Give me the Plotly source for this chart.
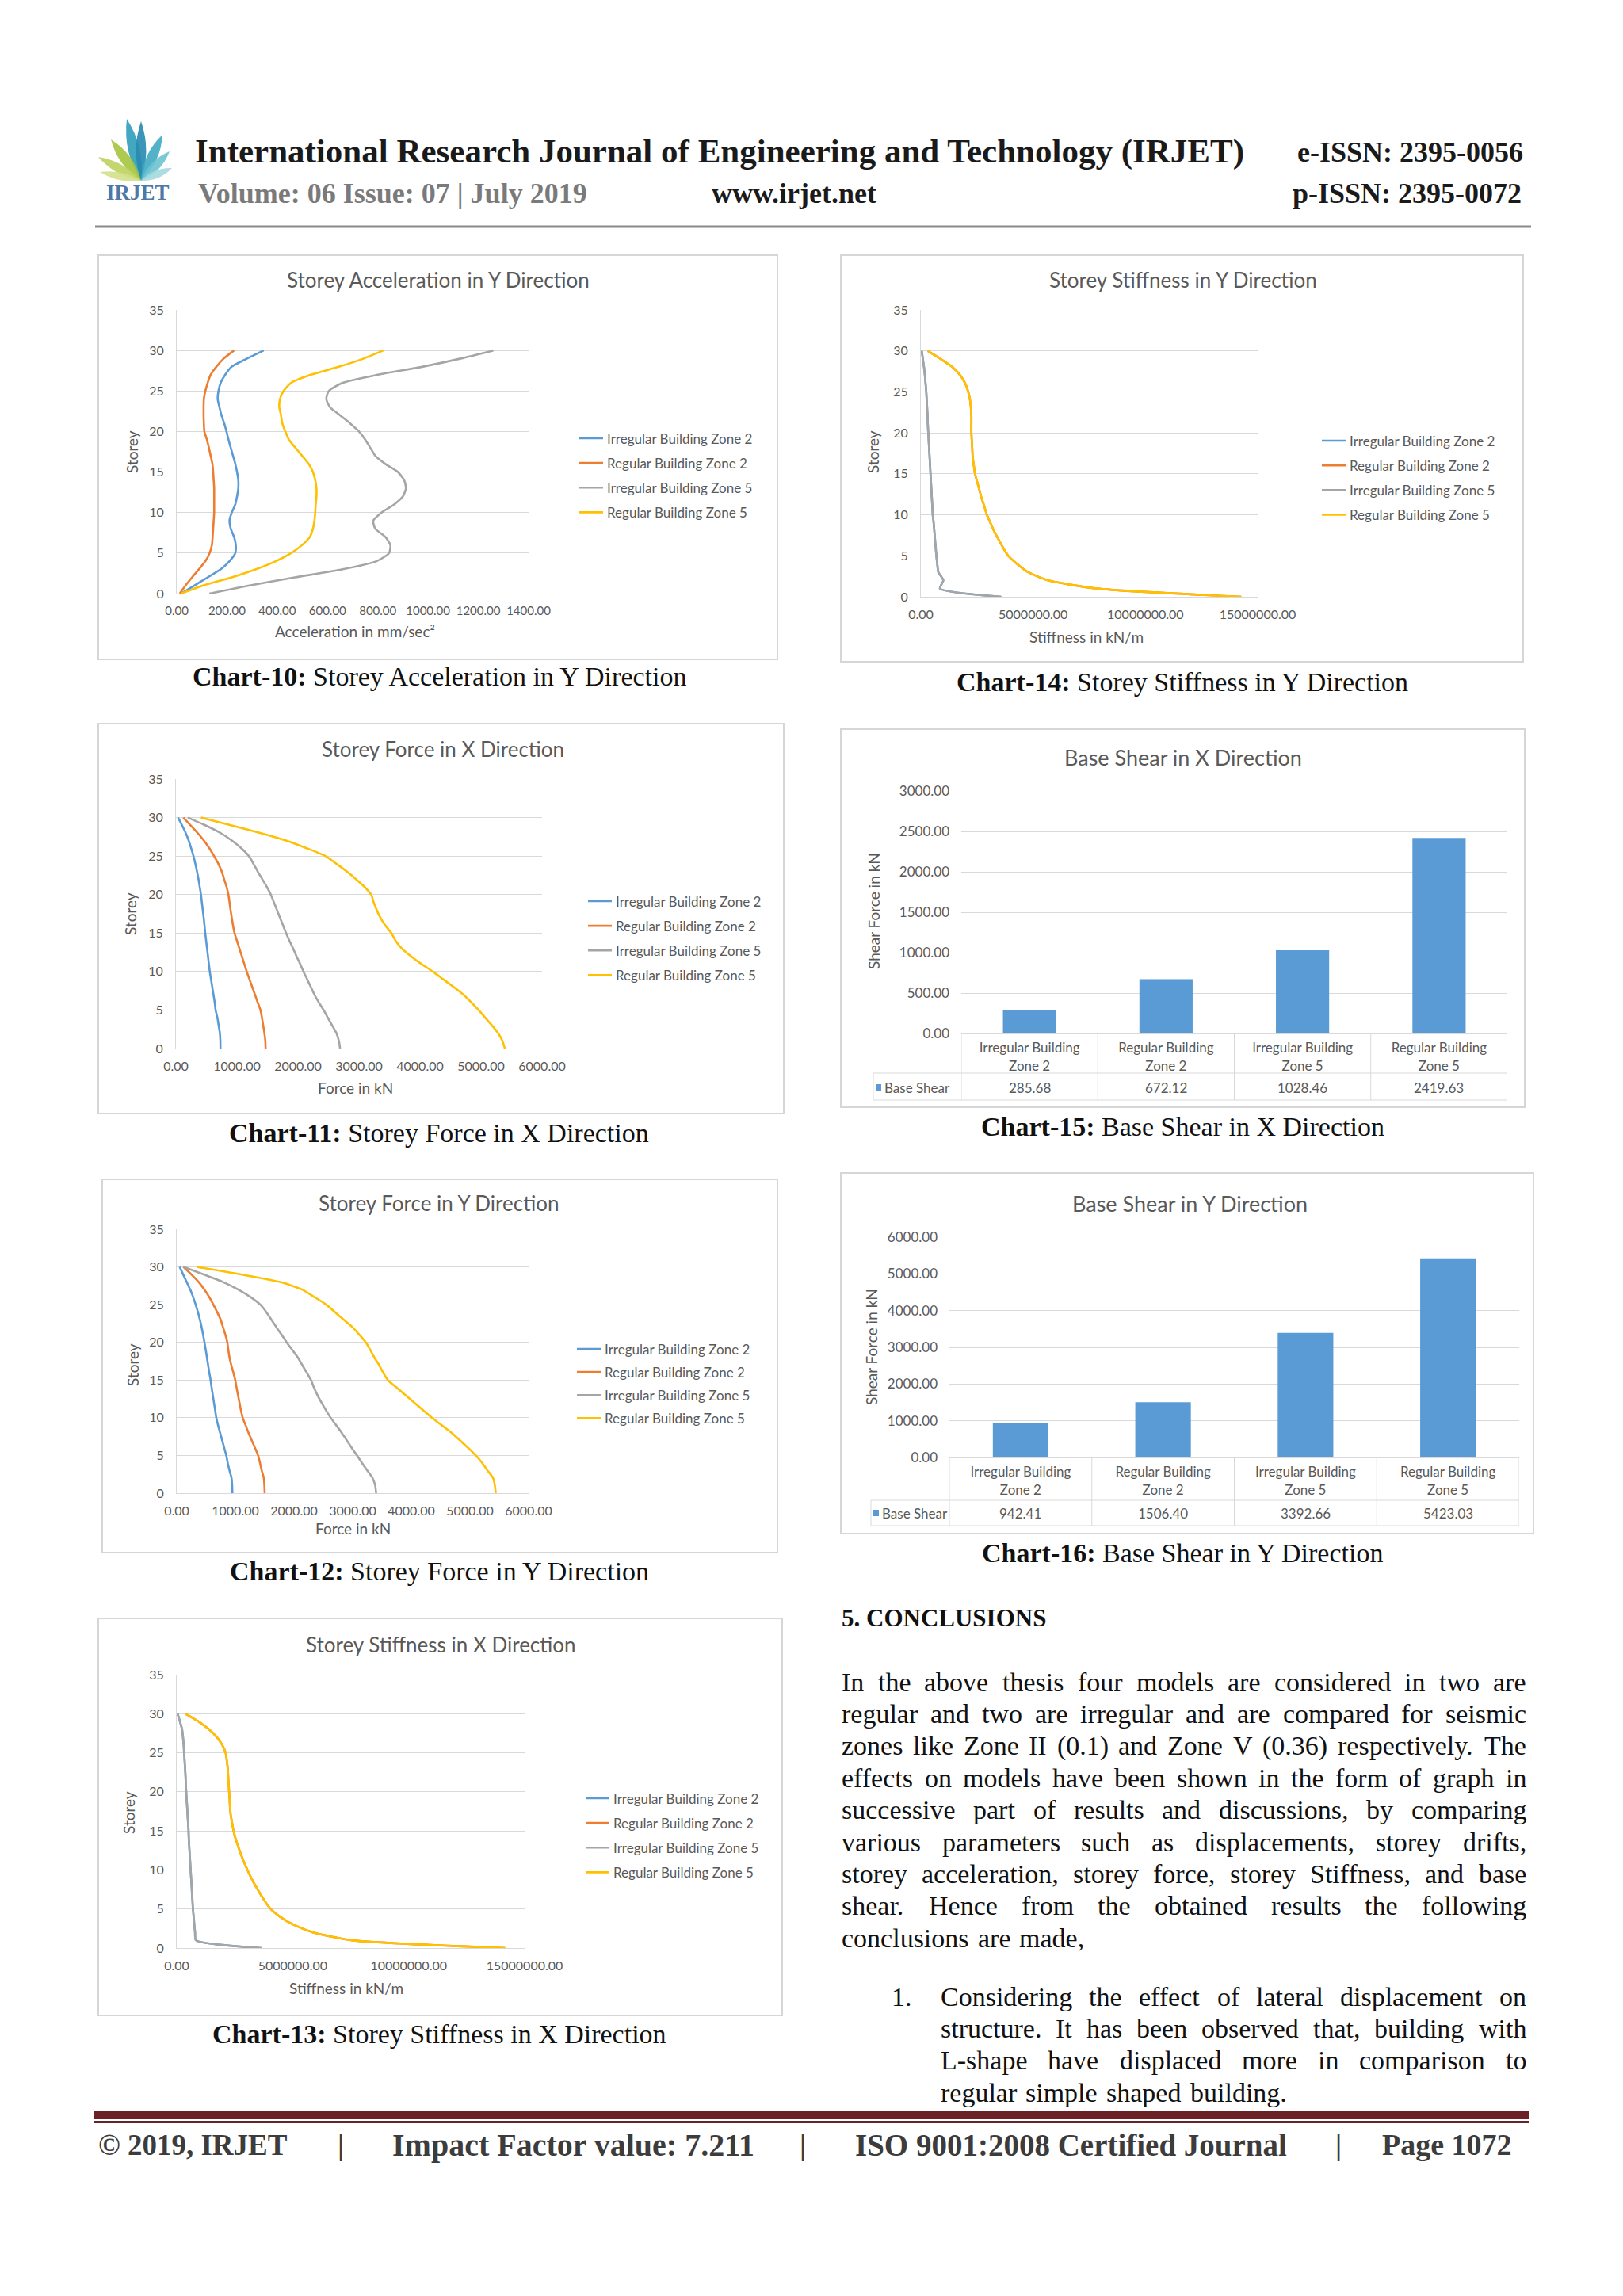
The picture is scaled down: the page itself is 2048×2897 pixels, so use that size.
import plotly.graph_objects as go

W, H = 2048, 2897
OFF = 8                      # default body margin of the page
FW, FH = W - 2 * OFF, H - 2 * OFF - 1


def px(x):
    return (x - OFF) / FW


def py(y):
    return 1 - (y - OFF) / FH


# ---------------- data ----------------
storeys = list(range(0, 31))

series_names = ["Irregular Building Zone 2", "Regular Building Zone 2",
                "Irregular Building Zone 5", "Regular Building Zone 5"]
series_colors = ["#5B9BD5", "#ED7D31", "#A5A5A5", "#FFC000"]

# Chart-10 storey acceleration in Y (mm/sec^2), storey 0..30
acc_y_irr_z2 = [17, 70, 123, 175, 210, 233, 235, 228, 215, 210, 219, 233, 240, 245, 245, 240,
                233, 224, 215, 206, 198, 189, 178, 170, 163, 166, 175, 193, 219, 280, 346]
acc_y_reg_z2 = [12, 35, 61, 88, 114, 131, 140, 143, 145, 147, 149, 149, 149, 149, 147, 145,
                142, 135, 128, 120, 110, 108, 107, 107, 108, 114, 123, 135, 158, 187, 228]
acc_y_irr_z5 = [130, 290, 470, 660, 795, 845, 850, 830, 790, 782, 815, 865, 900, 912, 905, 880,
                830, 790, 770, 750, 725, 690, 650, 610, 595, 605, 660, 800, 980, 1130, 1260]
acc_y_reg_z5 = [17, 105, 219, 315, 394, 455, 499, 530, 542, 548, 551, 553, 556, 556, 551, 542,
                525, 499, 472, 446, 432, 420, 415, 408, 411, 425, 455, 534, 647, 744, 822]

# Chart-11 storey force in X (kN)
force_x_irr_z2 = [730, 728, 720, 700, 680, 650, 635, 615, 595, 575, 555, 540, 525, 510, 495, 480,
                  468, 455, 440, 425, 410, 390, 370, 345, 318, 287, 250, 210, 160, 100, 36]
force_x_reg_z2 = [1470, 1465, 1450, 1430, 1410, 1385, 1340, 1295, 1250, 1205, 1160, 1120, 1080, 1040, 1000, 960,
                  935, 915, 895, 878, 860, 830, 790, 750, 695, 625, 550, 460, 355, 240, 120]
force_x_irr_z5 = [2690, 2670, 2630, 2560, 2490, 2420, 2340, 2270, 2210, 2150, 2090, 2035, 1975, 1920, 1860, 1805,
                  1755, 1705, 1655, 1605, 1555, 1490, 1415, 1340, 1270, 1195, 1075, 920, 730, 480, 195]
force_x_reg_z5 = [5390, 5350, 5280, 5180, 5070, 4960, 4840, 4710, 4550, 4380, 4210, 4020, 3850, 3700, 3600, 3530,
                  3430, 3350, 3290, 3240, 3200, 3090, 2950, 2800, 2630, 2450, 2150, 1810, 1380, 900, 410]

# Chart-12 storey force in Y (kN)
force_y_irr_z2 = [950, 945, 935, 900, 870, 845, 810, 775, 740, 705, 675, 655, 635, 615, 595, 578,
                  555, 535, 515, 495, 473, 450, 425, 395, 362, 323, 280, 230, 170, 110, 50]
force_y_reg_z2 = [1500, 1495, 1485, 1450, 1420, 1388, 1335, 1280, 1225, 1175, 1125, 1095, 1070, 1045, 1020, 998,
                  965, 930, 900, 880, 863, 830, 790, 750, 690, 625, 555, 470, 375, 250, 113]
force_y_irr_z5 = [3400, 3385, 3340, 3250, 3160, 3075, 2985, 2900, 2815, 2720, 2625, 2545, 2470, 2400, 2340, 2290,
                  2215, 2140, 2065, 1970, 1875, 1790, 1700, 1615, 1530, 1425, 1260, 1050, 790, 460, 115]
force_y_reg_z5 = [5440, 5425, 5395, 5300, 5210, 5100, 4970, 4830, 4690, 4520, 4350, 4200, 4050, 3900, 3750, 3600,
                  3520, 3450, 3370, 3300, 3225, 3115, 3000, 2850, 2700, 2550, 2350, 2140, 1765, 1100, 340]

# Chart-13 storey stiffness in X (kN/m); zone 2 and zone 5 curves coincide
stiff_x_irr = [3650000, 830000, 790000, 760000, 730000, 700000, 680000, 660000, 640000, 620000, 600000,
               580000, 560000, 540000, 520000, 510000, 490000, 470000, 450000, 430000, 410000,
               390000, 380000, 360000, 340000, 320000, 300000, 270000, 230000, 140000, 40000]
stiff_x_reg = [14160000, 7570000, 5880000, 5030000, 4460000, 4050000, 3800000, 3590000, 3390000, 3210000, 3050000,
               2900000, 2770000, 2650000, 2540000, 2450000, 2390000, 2330000, 2300000, 2280000, 2260000,
               2240000, 2220000, 2200000, 2160000, 2110000, 1960000, 1730000, 1390000, 940000, 380000]

# Chart-14 storey stiffness in Y (kN/m)
stiff_y_irr = [3580000, 850000, 1000000, 780000, 730000, 690000, 660000, 630000, 600000, 570000, 530000,
               510000, 490000, 470000, 450000, 430000, 410000, 390000, 370000, 350000, 330000,
               310000, 300000, 280000, 260000, 240000, 210000, 180000, 140000, 90000, 40000]
stiff_y_reg = [14270000, 7850000, 5670000, 4780000, 4290000, 3890000, 3660000, 3460000, 3260000, 3100000, 2940000,
               2830000, 2710000, 2610000, 2510000, 2410000, 2360000, 2310000, 2290000, 2270000, 2250000,
               2250000, 2250000, 2230000, 2190000, 2110000, 1980000, 1760000, 1420000, 890000, 300000]

# Chart-15 / 16 base shear (kN)
bar_categories = ["Irregular Building<br>Zone 2", "Regular Building<br>Zone 2",
                  "Irregular Building<br>Zone 5", "Regular Building<br>Zone 5"]
base_shear_x = [285.68, 672.12, 1028.46, 2419.63]
base_shear_y = [942.41, 1506.40, 3392.66, 5423.03]

paragraph_lines = [
    "In the above thesis four models are considered in two are",
    "regular and two are irregular and are compared for seismic",
    "zones like Zone II (0.1) and Zone V (0.36) respectively. The",
    "effects on models have been shown in the form of graph in",
    "successive part of results and discussions, by comparing",
    "various parameters such as displacements, storey drifts,",
    "storey acceleration, storey force, storey Stiffness, and base",
    "shear. Hence from the obtained results the following",
    "conclusions are made,",
]
item_lines = [
    "Considering the effect of lateral displacement on",
    "structure. It has been observed that, building with",
    "L-shape have displaced more in comparison to",
    "regular simple shaped building.",
]

# ---------------- styling ----------------
GRID = "#d9d9d9"
TXT = "#595959"
CF = "Lato, 'Open Sans', sans-serif"
SERIF = "'Liberation Serif', 'Times New Roman', serif"

fig = go.Figure()
annotations = []
shapes = []
layout = {}


def ann(text, x, y, size, color="#111", family=SERIF, xanchor="center", yanchor="middle", angle=0):
    annotations.append(dict(text=text, x=px(x), y=py(y), xref="paper", yref="paper",
                            xanchor=xanchor, yanchor=yanchor, showarrow=False, textangle=angle,
                            font=dict(size=size, color=color, family=family), borderpad=0, borderwidth=0))


def box(x0, y0, x1, y1):
    shapes.append(dict(type="rect", xref="paper", yref="paper", x0=px(x0), x1=px(x1),
                       y0=py(y1), y1=py(y0), line=dict(color="#d6d6d6", width=2), layer="below"))


def axkeys(i):
    return ("xaxis" if i == 1 else f"xaxis{i}", "yaxis" if i == 1 else f"yaxis{i}",
            "x" if i == 1 else f"x{i}", "y" if i == 1 else f"y{i}")


line_charts = [
    dict(i=1, title="Storey Acceleration in Y Direction", xtitle="Acceleration in mm/sec²",
         data=[acc_y_irr_z2, acc_y_reg_z2, acc_y_irr_z5, acc_y_reg_z5], xmax=1400, dtick=200, xfs=15,
         box=(124, 322, 981, 832), plot=(223, 391, 667, 749), tpos=(553, 353), xtpos=(448, 797),
         ytpos=(167, 570), leg=(734, 600), gap=6),
    dict(i=2, title="Storey Force in X Direction", xtitle="Force in kN",
         data=[force_x_irr_z2, force_x_reg_z2, force_x_irr_z5, force_x_reg_z5], xmax=6000, dtick=1000, xfs=16,
         box=(124, 913, 989, 1405), plot=(222, 983, 684, 1323), tpos=(559, 945), xtpos=(448, 1372),
         ytpos=(164, 1153), leg=(745, 1184), gap=6),
    dict(i=3, title="Storey Force in Y Direction", xtitle="Force in kN",
         data=[force_y_irr_z2, force_y_reg_z2, force_y_irr_z5, force_y_reg_z5], xmax=6000, dtick=1000, xfs=16,
         box=(129, 1488, 981, 1959), plot=(223, 1551, 667, 1884), tpos=(553, 1518), xtpos=(445, 1928),
         ytpos=(167, 1722), leg=(731, 1746), gap=4),
    dict(i=4, title="Storey Stiffness in X Direction", xtitle="Stiffness in kN/m",
         data=[stiff_x_irr, stiff_x_reg, stiff_x_irr, stiff_x_reg], xmax=15000000, dtick=5000000, xfs=16,
         box=(124, 2042, 987, 2543), plot=(223, 2113, 662, 2458), tpos=(556, 2075), xtpos=(437, 2508),
         ytpos=(162, 2287), leg=(742, 2316), gap=6),
    dict(i=5, title="Storey Stiffness in Y Direction", xtitle="Stiffness in kN/m",
         data=[stiff_y_irr, stiff_y_reg, stiff_y_irr, stiff_y_reg], xmax=15000000, dtick=5000000, xfs=16,
         box=(1061, 322, 1922, 835), plot=(1162, 391, 1587, 753), tpos=(1493, 353), xtpos=(1371, 803),
         ytpos=(1102, 570), leg=(1671, 603), gap=6),
]

for c in line_charts:
    i = c["i"]
    xk, yk, xr, yr = axkeys(i)
    legkey = "legend" if i == 1 else f"legend{i}"
    for k in range(4):
        fig.add_trace(go.Scatter(
            x=c["data"][k], y=storeys, mode="lines", name=series_names[k],
            line=dict(color=series_colors[k], width=2.6, shape="spline", smoothing=0.6),
            xaxis=xr, yaxis=yr, legend=legkey, legendgroup=f"g{i}_{k}", hoverinfo="skip"))
    x0, y0, x1, y1 = c["plot"]
    layout[xk] = dict(domain=[px(x0), px(x1)], range=[0, c["xmax"]], anchor=yr, tick0=0,
                      dtick=c["dtick"], tickformat=".2f", showgrid=False, zeroline=False,
                      showline=True, linecolor=GRID, linewidth=1, ticks="", ticklabelstandoff=8,
                      tickangle=0, automargin=False,
                      tickfont=dict(size=c["xfs"], color=TXT, family=CF), fixedrange=True)
    layout[yk] = dict(domain=[py(y1), py(y0)], range=[0, 35], anchor=xr, tick0=0, dtick=5,
                      showgrid=True, gridcolor=GRID, gridwidth=1, zeroline=False,
                      showline=True, linecolor=GRID, linewidth=1, ticks="", ticklabelstandoff=12,
                      automargin=False,
                      tickfont=dict(size=16, color=TXT, family=CF), fixedrange=True)
    lx, ly = c["leg"]
    layout[legkey] = dict(x=px(lx - 8), y=py(ly), xanchor="left", yanchor="middle",
                          bgcolor="rgba(0,0,0,0)", font=dict(size=17, color=TXT, family=CF),
                          tracegroupgap=c["gap"], traceorder="grouped", itemwidth=30)
    box(*c["box"])
    ann(c["title"], c["tpos"][0], c["tpos"][1], 26, TXT, CF)
    ann(c["xtitle"], c["xtpos"][0], c["xtpos"][1], 19, TXT, CF)
    ann("Storey", c["ytpos"][0], c["ytpos"][1], 19, TXT, CF, angle=-90)

bar_charts = [
    dict(i=6, title="Base Shear in X Direction", data=base_shear_x, ymax=3000, dtick=500,
         box=(1061, 920, 1924, 1397), plot=(1213, 998, 1902, 1304), tpos=(1493, 955),
         ytpos=(1102, 1150), sep=1354, bottom=1388, left=1102, row=1372),
    dict(i=7, title="Base Shear in Y Direction", data=base_shear_y, ymax=6000, dtick=1000,
         box=(1061, 1480, 1935, 1935), plot=(1198, 1561, 1917, 1839), tpos=(1501, 1518),
         ytpos=(1099, 1700), sep=1893, bottom=1925, left=1099, row=1909),
]

for c in bar_charts:
    i = c["i"]
    xk, yk, xr, yr = axkeys(i)
    fig.add_trace(go.Bar(x=bar_categories, y=c["data"], marker=dict(color="#5B9BD5", line=dict(width=0)),
                         width=0.39, xaxis=xr, yaxis=yr, showlegend=False, hoverinfo="skip"))
    x0, y0, x1, y1 = c["plot"]
    layout[xk] = dict(domain=[px(x0), px(x1)], type="category", range=[-0.5, 3.5], anchor=yr,
                      showgrid=False, zeroline=False, showline=True, linecolor=GRID, ticks="",
                      ticklabelstandoff=3, tickangle=0, automargin=False,
                      tickfont=dict(size=17, color=TXT, family=CF), fixedrange=True)
    layout[yk] = dict(domain=[py(y1), py(y0)], range=[0, c["ymax"]], anchor=xr, tick0=0, dtick=c["dtick"],
                      tickformat=".2f", showgrid=True, gridcolor=GRID, zeroline=False, showline=False,
                      ticks="", ticklabelstandoff=14, automargin=False,
                      tickfont=dict(size=17, color=TXT, family=CF), fixedrange=True)
    box(*c["box"])
    ann(c["title"], c["tpos"][0], c["tpos"][1], 27, TXT, CF)
    ann("Shear Force in kN", c["ytpos"][0], c["ytpos"][1], 19, TXT, CF, angle=-90)
    # data table under the category axis
    for b in [-0.5, 0.5, 1.5, 2.5, 3.5]:
        shapes.append(dict(type="line", xref=xr, yref="paper", x0=b, x1=b, y0=py(c["bottom"]), y1=py(y1),
                           line=dict(color=GRID, width=1)))
    for yy in (c["sep"], c["bottom"]):
        shapes.append(dict(type="line", xref="paper", yref="paper", x0=px(c["left"]), x1=px(x1),
                           y0=py(yy), y1=py(yy), line=dict(color=GRID, width=1)))
    shapes.append(dict(type="line", xref="paper", yref="paper", x0=px(c["left"]), x1=px(c["left"]),
                       y0=py(c["sep"]), y1=py(c["bottom"]), line=dict(color=GRID, width=1)))
    shapes.append(dict(type="rect", xref="paper", yref="paper", x0=px(c["left"] + 3), x1=px(c["left"] + 10),
                       y0=py(c["row"] + 4), y1=py(c["row"] - 4), fillcolor="#5B9BD5", line=dict(width=0)))
    ann("Base Shear", c["left"] + 14, c["row"], 17, TXT, CF, xanchor="left")
    for k, v in enumerate(c["data"]):
        annotations.append(dict(text=f"{v:.2f}", x=k, y=py(c["row"]), xref=xr, yref="paper",
                                showarrow=False, xanchor="center", yanchor="middle",
                                font=dict(size=17, color=TXT, family=CF)))

# ---------------- captions ----------------
captions = [
    ("Chart-10:", "Storey Acceleration in Y Direction", 554, 854),
    ("Chart-14:", "Storey Stiffness in Y Direction", 1492, 860),
    ("Chart-11:", "Storey Force in X Direction", 554, 1429),
    ("Chart-15:", "Base Shear in X Direction", 1492, 1421),
    ("Chart-12:", "Storey Force in Y Direction", 554, 1983),
    ("Chart-16:", "Base Shear in Y Direction", 1492, 1959),
    ("Chart-13:", "Storey Stiffness in X Direction", 554, 2566),
]
for lab, txt, cx, cy in captions:
    ann(f"<b>{lab}</b> {txt}", cx, cy, 34, "#111")

# ---------------- header ----------------
ann("<b>International Research Journal of Engineering and Technology (IRJET)</b>", 246, 191, 43, "#1a1a1a",
    xanchor="left")
ann("<b>e-ISSN: 2395-0056</b>", 1922, 192, 36, "#1a1a1a", xanchor="right")
ann("<b>Volume: 06 Issue: 07 | July 2019</b>", 250, 244, 36, "#7a7a7a", xanchor="left")
ann("<b>www.irjet.net</b>", 898, 244, 36, "#1a1a1a", xanchor="left")
ann("<b>p-ISSN: 2395-0072</b>", 1920, 244, 36, "#1a1a1a", xanchor="right")
shapes.append(dict(type="line", xref="paper", yref="paper", x0=px(120), x1=px(1932), y0=py(286), y1=py(286),
                   line=dict(color="#8a8a8a", width=3)))

# logo: fan of leaves + IRJET
base = (178, 228)
leaves = [((160, 150), 9, "#2f9fb8"), ((178, 153), 8, "#2789b0"), ((205, 170), 8, "#40aac2"),
          ((214, 191), 7, "#6cc3d0"), ((217, 212), 6, "#a3d9de"),
          ((140, 176), 8, "#a5c43e"), ((124, 198), 7, "#bdd35e"), ((126, 217), 6, "#d3e08a")]
for (tx, ty), wdt, col in leaves:
    bx, by = base
    dx, dy = tx - bx, ty - by
    ln = (dx * dx + dy * dy) ** 0.5
    nx, ny = -dy / ln * wdt * 1.6, dx / ln * wdt * 1.6
    mx, my = bx + dx * 0.5, by + dy * 0.5
    path = (f"M {px(bx)},{py(by)} Q {px(mx + nx)},{py(my + ny)} {px(tx)},{py(ty)} "
            f"Q {px(mx - nx)},{py(my - ny)} {px(bx)},{py(by)} Z")
    shapes.append(dict(type="path", xref="paper", yref="paper", path=path, fillcolor=col,
                       line=dict(width=0), opacity=0.9))
ann("<b>IRJET</b>", 174, 243, 27, "#4d78a8")

# ---------------- conclusions text ----------------
TW = {' ': 250, '!': 333, '(': 333, ')': 333, ',': 250, '-': 333, '.': 250, ':': 278, ';': 278,
      'A': 722, 'B': 667, 'C': 667, 'D': 722, 'E': 611, 'F': 556, 'G': 722, 'H': 722, 'I': 333, 'J': 389,
      'K': 722, 'L': 611, 'M': 889, 'N': 722, 'O': 722, 'P': 556, 'Q': 722, 'R': 667, 'S': 556, 'T': 611,
      'U': 722, 'V': 722, 'W': 944, 'X': 722, 'Y': 722, 'Z': 611,
      'a': 444, 'b': 500, 'c': 444, 'd': 500, 'e': 444, 'f': 333, 'g': 500, 'h': 500, 'i': 278, 'j': 278,
      'k': 500, 'l': 278, 'm': 778, 'n': 500, 'o': 500, 'p': 500, 'q': 500, 'r': 333, 's': 389, 't': 278,
      'u': 500, 'v': 500, 'w': 722, 'x': 500, 'y': 500, 'z': 444}


def tw(s, size):
    return sum(TW.get(ch, 500) for ch in s) / 1000 * size


def justified(lines, left, right, y0, dy, size):
    for j, line in enumerate(lines):
        words = line.split()
        y = y0 + j * dy
        if j < len(lines) - 1 and len(words) > 1:
            gap = (right - left - sum(tw(w, size) for w in words)) / (len(words) - 1)
        else:
            gap = tw(" ", size) * 1.3
        x = left
        for w in words:
            ann(w, x, y, size, "#111", xanchor="left")
            x += tw(w, size) + gap


ann("<b>5. CONCLUSIONS</b>", 1062, 2041, 31, "#111", xanchor="left")
justified(paragraph_lines, 1062, 1926, 2122, 40.4, 34)
ann("1.", 1125, 2519, 34, "#111", xanchor="left")
justified(item_lines, 1187, 1926, 2519, 40.4, 34)

# ---------------- footer ----------------
shapes.append(dict(type="rect", xref="paper", yref="paper", x0=px(118), x1=px(1930), y0=py(2674), y1=py(2663),
                   fillcolor="#6b2226", line=dict(width=0)))
shapes.append(dict(type="line", xref="paper", yref="paper", x0=px(118), x1=px(1930), y0=py(2677.5), y1=py(2677.5),
                   line=dict(color="#6b2226", width=3)))
FC = "#3c3c3c"
ann("<b>© 2019, IRJET</b>", 124, 2706, 37, FC, xanchor="left")
ann("<b>|</b>", 430, 2706, 37, FC)
ann("<b>Impact Factor value: 7.211</b>", 495, 2706, 40, FC, xanchor="left")
ann("<b>|</b>", 1013, 2706, 37, FC)
ann("<b>ISO 9001:2008 Certified Journal</b>", 1079, 2706, 39, FC, xanchor="left")
ann("<b>|</b>", 1689, 2706, 37, FC)
ann("<b>Page 1072</b>", 1908, 2706, 38, FC, xanchor="right")

fig.update_layout(width=FW, height=FH, autosize=False, margin=dict(l=0, r=0, t=0, b=0, pad=0, autoexpand=False),
                  paper_bgcolor="white", plot_bgcolor="white", showlegend=True,
                  annotations=annotations, shapes=shapes, **layout)

fig.write_html("out.html", config={"displayModeBar": False, "staticPlot": True})
